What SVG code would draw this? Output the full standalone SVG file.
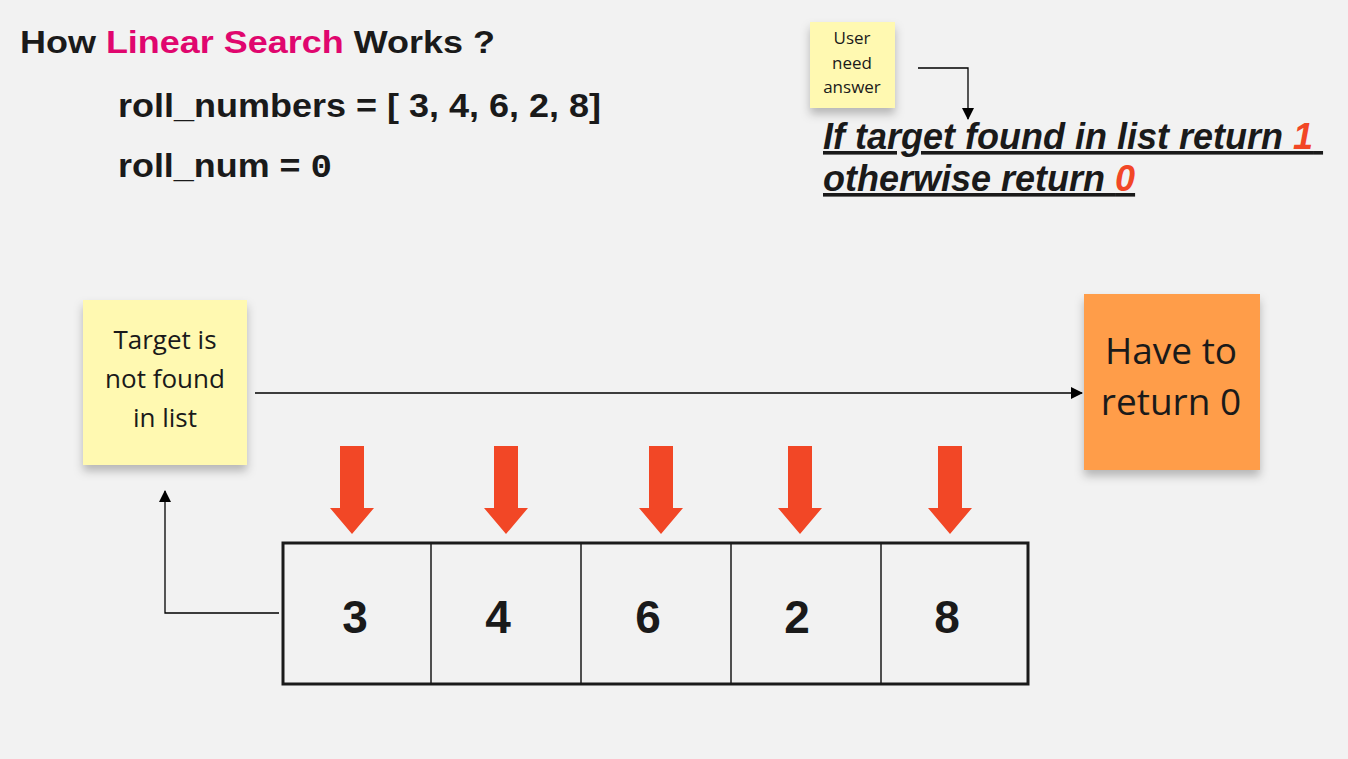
<svg xmlns="http://www.w3.org/2000/svg" width="1348" height="759" viewBox="0 0 1348 759">
<defs>
<style>
.b{font-family:"Liberation Sans",Arial,sans-serif;font-weight:bold;fill:#1a1a1a}
.n{font-family:"Open Sans","Noto Sans",sans-serif;fill:#1a1a1a;text-anchor:middle}
.c{fill:none;stroke:#000;stroke-width:1.3}
.d{font-family:"Liberation Sans",Arial,sans-serif;font-weight:bold;font-size:46px;fill:#1a1a1a;text-anchor:middle}
</style>
<marker id="ah" markerWidth="12" markerHeight="12" refX="11" refY="6" orient="auto" markerUnits="userSpaceOnUse"><path d="M0,0 L12,6 L0,12 Z" fill="#000"/></marker>
<filter id="sh" x="-20%" y="-20%" width="140%" height="160%"><feDropShadow dx="0" dy="6" stdDeviation="5" flood-color="#000" flood-opacity="0.25"/></filter>
<path id="arr" d="M-12,0 H12 V62 H22 L0,88 L-22,62 H-12 Z" fill="#f24726"/>
</defs>
<rect width="1348" height="759" fill="#f2f2f2"/>
<text class="b" x="20" y="53" font-size="32" textLength="475" lengthAdjust="spacingAndGlyphs">How <tspan fill="#e0066e">Linear Search</tspan> Works ?</text>
<text class="b" x="118" y="117" font-size="34" textLength="483" lengthAdjust="spacingAndGlyphs">roll_numbers = [ 3, 4, 6, 2, 8]</text>
<text class="b" x="118" y="177" font-size="34" textLength="214" lengthAdjust="spacingAndGlyphs">roll_num = <tspan font-family="Liberation Mono,monospace">0</tspan></text>
<g id="user"><rect x="810" y="22" width="85" height="86" fill="#fff9b1" filter="url(#sh)"/>
<text class="n" font-size="17"><tspan x="852" y="44">User</tspan><tspan x="852" y="69">need</tspan><tspan x="852" y="93">answer</tspan></text></g>
<g id="answer"><text class="b" font-size="36" font-style="italic" text-decoration="underline"><tspan x="823" y="149">If target found in list return <tspan fill="#f24726">1</tspan> </tspan><tspan x="823" y="191">otherwise return <tspan fill="#f24726">0</tspan></tspan></text></g>
<g id="target"><rect x="83" y="300" width="164" height="165" fill="#fff9b1" filter="url(#sh)"/>
<text class="n" font-size="26"><tspan x="165" y="349">Target is</tspan><tspan x="165" y="388">not found</tspan><tspan x="165" y="427">in list</tspan></text></g>
<g id="ret"><rect x="1084" y="294" width="176" height="176" fill="#ff9d48" filter="url(#sh)"/>
<text class="n" font-size="37"><tspan x="1171" y="364">Have to</tspan><tspan x="1171" y="415">return 0</tspan></text></g>
<g id="array"><rect x="283" y="543" width="745" height="141" fill="none" stroke="#1a1a1a" stroke-width="3"/>
<path d="M431,543V684M581,543V684M731,543V684M881,543V684" stroke="#1a1a1a" stroke-width="1.5"/>
<text class="d" x="355" y="633">3</text><text class="d" x="498" y="633">4</text><text class="d" x="648" y="633">6</text><text class="d" x="797" y="633">2</text><text class="d" x="947" y="633">8</text></g>
<g id="pointers"><use href="#arr" x="352" y="446"/><use href="#arr" x="506" y="446"/><use href="#arr" x="661" y="446"/><use href="#arr" x="800" y="446"/><use href="#arr" x="950" y="446"/></g>
<g id="connectors">
<path class="c" d="M918,68H968V119" marker-end="url(#ah)"/>
<path class="c" d="M255,393H1082" marker-end="url(#ah)"/>
<path class="c" d="M279,613H165V491" marker-end="url(#ah)"/>
</g>
</svg>
